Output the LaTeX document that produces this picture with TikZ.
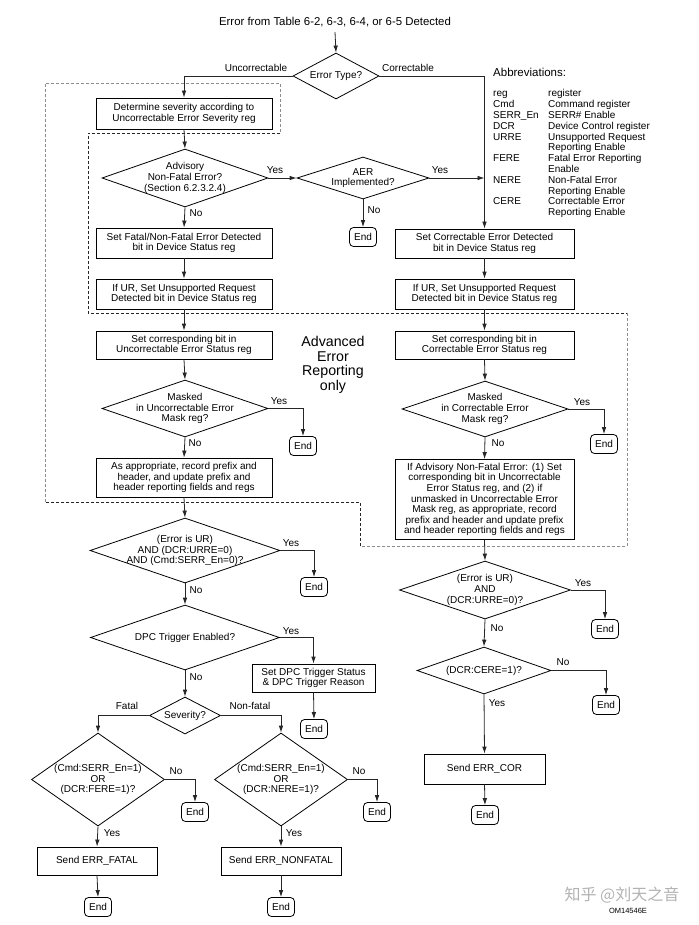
\documentclass[tikz,border=0pt]{standalone}
\usepackage{fontspec}
\setmainfont{Liberation Sans}
\newfontfamily\cjkfont{Noto Sans CJK SC}
\usetikzlibrary{shapes.geometric,arrows.meta}
\begin{document}
\begin{tikzpicture}[x=1pt,y=-1pt,
  fs/.style={font=\fontsize{10}{10.6}\selectfont},
  box/.style 2 args={draw, rectangle, line width=0.8pt, align=center, inner sep=1pt, minimum width=#1, minimum height=#2, fs},
  dia/.style 2 args={draw, diamond, line width=0.8pt, inner sep=0pt, minimum width=#1, minimum height=#2},
  dtxt/.style={align=center, fs, inner sep=0pt},
  endb/.style={draw, rounded corners=4pt, line width=0.8pt, minimum width=27pt, minimum height=19pt, inner sep=0pt, fs},
  arr/.style={draw=black!85, line width=0.8pt, -{Latex[length=7pt,width=4.6pt]}},
  lab/.style={fs, inner sep=0pt},
  dsh/.style={dash pattern=on 3pt off 2pt, line width=0.8pt}
]
\useasboundingbox (0,0) rectangle (698,925);

% ---------- dashed AER region ----------
\draw[dsh, black!85] (280,133) -- (88,133) -- (88,313) -- (627,313);
\draw[dsh, black!45] (627,313) -- (627,546) -- (360,546);
\draw[dsh, black!85] (360,546) -- (360,502) -- (45,502);
\draw[dsh, black!45] (45,502) -- (45,83) -- (280,83) -- (280,133);

% ---------- top ----------
\node[font=\fontsize{11.4}{12}\selectfont, inner sep=0pt] (title) at (335,22) {Error from Table 6-2, 6-3, 6-4, or 6-5 Detected};
\node[dia={86pt}{46pt}, label={[dtxt]center:Error Type?}] (et) at (336,76) {};
\node[lab] (lUnc) at (256,68) {Uncorrectable};
\node[lab] (lCor) at (408,68) {Correctable};

% ---------- abbreviations ----------
\node[anchor=west, inner sep=0pt, font=\fontsize{11.5}{12}\selectfont] (abbrt) at (493,72) {Abbreviations:};
\node[anchor=north west, inner sep=0pt] (abbr) at (493,89.2) {\fontsize{10}{10.8}\selectfont
\begin{tabular}{@{}l@{}l@{}}
\makebox[55pt][l]{reg} & register\\
\makebox[55pt][l]{Cmd} & Command register\\
\makebox[55pt][l]{SERR\_En} & SERR\# Enable\\
\makebox[55pt][l]{DCR} & Device Control register\\
\makebox[55pt][l]{URRE} & Unsupported Request\\
 & Reporting Enable\\
\makebox[55pt][l]{FERE} & Fatal Error Reporting\\
 & Enable\\
\makebox[55pt][l]{NERE} & Non-Fatal Error\\
 & Reporting Enable\\
\makebox[55pt][l]{CERE} & Correctable Error\\
 & Reporting Enable
\end{tabular}};

% ---------- left column ----------
\node[box={176pt}{31pt}] (det) at (184,113.5) {Determine severity according to\\Uncorrectable Error Severity reg};
\node[dia={166pt}{58pt}, label={[dtxt]center:{Advisory\\Non-Fatal Error?\\(Section 6.2.3.2.4)}}] (adv) at (185,178) {};
\node[dia={132pt}{42pt}, label={[dtxt]center:{AER\\Implemented?}}] (aer) at (363,178) {};
\node[endb] (end1) at (363,237) {End};
\node[box={176pt}{30pt}] (sfat) at (184,243) {Set Fatal/Non-Fatal Error Detected\\bit in Device Status reg};
\node[box={176pt}{30pt}] (urL) at (184,294) {If UR, Set Unsupported Request\\Detected bit in Device Status reg};
\node[box={176pt}{28pt}] (ucs) at (184,345) {Set corresponding bit in\\Uncorrectable Error Status reg};
\node[dia={166pt}{57pt}, label={[dtxt]center:{Masked\\in Uncorrectable Error\\Mask reg?}}] (mU) at (185,408.5) {};
\node[endb] (endMU) at (303,446) {End};
\node[box={176pt}{39pt}] (asap) at (184,477.5) {As appropriate, record prefix and\\header, and update prefix and\\header reporting fields and regs};
\node[font=\fontsize{14.2}{14.6}\selectfont, align=center, inner sep=0pt] (aeronly) at (333,365) {Advanced\\Error\\Reporting\\only};

\node[dia={190pt}{65pt}, label={[dtxt]center:{(Error is UR)\\AND (DCR:URRE=0)\\AND (Cmd:SERR\_En=0)?}}] (urA) at (185,550.5) {};
\node[endb] (endUA) at (314,587) {End};
\node[dia={189pt}{65pt}, label={[dtxt]center:{DPC Trigger Enabled?}}] (dpc) at (185,637.5) {};
\node[box={123pt}{28pt}] (dpcs) at (313.5,678) {Set DPC Trigger Status\\\& DPC Trigger Reason};
\node[endb] (endD) at (314,729) {End};
\node[dia={71pt}{37pt}, label={[dtxt]center:{Severity?}}] (sev) at (185,715.5) {};
\node[dia={133pt}{93pt}, label={[dtxt]center:{(Cmd:SERR\_En=1)\\OR\\(DCR:FERE=1)?}}] (fat) at (98,779.5) {};
\node[dia={133pt}{93pt}, label={[dtxt]center:{(Cmd:SERR\_En=1)\\OR\\(DCR:NERE=1)?}}] (nfat) at (281,779.5) {};
\node[endb] (endF1) at (195,812) {End};
\node[endb] (endN1) at (377,812) {End};
\node[box={120pt}{28pt}] (sf) at (97,861) {Send ERR\_FATAL};
\node[box={120pt}{28pt}] (snf) at (281,861) {Send ERR\_NONFATAL};
\node[endb] (endF2) at (98,907) {End};
\node[endb] (endN2) at (281,907) {End};

% ---------- right column ----------
\node[box={179pt}{29pt}] (scor) at (484.5,243.5) {Set Correctable Error Detected\\bit in Device Status reg};
\node[box={179pt}{30pt}] (urR) at (484.5,294) {If UR, Set Unsupported Request\\Detected bit in Device Status reg};
\node[box={179pt}{28pt}] (ccs) at (484.5,345) {Set corresponding bit in\\Correctable Error Status reg};
\node[dia={166pt}{56pt}, label={[dtxt]center:{Masked\\in Correctable Error\\Mask reg?}}] (mC) at (485,409) {};
\node[endb] (endMC) at (604,444) {End};
\node[box={179pt}{80pt}] (advN) at (484.5,499.5) {If Advisory Non-Fatal Error: (1) Set\\corresponding bit in Uncorrectable\\Error Status reg, and (2) if\\unmasked in Uncorrectable Error\\Mask reg, as appropriate, record\\prefix and header and update prefix\\and header reporting fields and regs};
\node[dia={171pt}{58pt}, label={[dtxt]center:{(Error is UR)\\AND\\(DCR:URRE=0)?}}] (urC) at (485,590) {};
\node[endb] (endUC) at (605,629) {End};
\node[dia={134pt}{47pt}, label={[dtxt]center:{(DCR:CERE=1)?}}] (cere) at (484,670.5) {};
\node[endb] (endCE) at (606,705) {End};
\node[box={121pt}{30pt}] (scor2) at (484.5,769) {Send ERR\_COR};
\node[endb] (endC) at (485,815) {End};

% ---------- branch labels ----------
\node[lab] (y1) at (275,170) {Yes};
\node[lab] (y2) at (440,170) {Yes};
\node[lab] (n1) at (374,210) {No};
\node[lab] (n2) at (196,213) {No};
\node[lab] (y3) at (279,401) {Yes};
\node[lab] (n3) at (195,443) {No};
\node[lab] (y4) at (582,402) {Yes};
\node[lab] (n4) at (498,443) {No};
\node[lab] (y5) at (291,543) {Yes};
\node[lab] (n5) at (196,590) {No};
\node[lab] (y6) at (291,631) {Yes};
\node[lab] (n6) at (196,677) {No};
\node[lab] (lfat) at (127,706) {Fatal};
\node[lab] (lnf) at (250,706) {Non-fatal};
\node[lab] (n7) at (176,771) {No};
\node[lab] (y7) at (112,833) {Yes};
\node[lab] (n8) at (359,771) {No};
\node[lab] (y8) at (294,833) {Yes};
\node[lab] (y9) at (583,583) {Yes};
\node[lab] (n9) at (497,628) {No};
\node[lab] (n10) at (563,662) {No};
\node[lab] (y10) at (497,703) {Yes};

% ---------- watermark / id ----------
\node[font=\cjkfont\fontsize{16}{16}\selectfont, text=black!30, inner sep=0pt] (wm) at (622,895) {知乎 @刘天之音};
\node[font=\fontsize{7.5}{8}\selectfont, inner sep=0pt] (om) at (628,911) {OM14546E};

% ---------- connectors ----------
\draw[arr] ([yshift=-5pt]title.south) -- (et.north);
\draw[arr] (et.west) -| (det.north);
\draw[arr] (et.east) -| (scor.north);
\draw[arr] (det.south) -- (adv.north);
\draw[arr] (adv.east) -- (aer.west);
\coordinate (aerj) at (aer.east -| scor.north);
\draw[arr] (aer.east) -- (aerj);
\draw[arr] (aer.south) -- (end1.north);
\draw[arr] (adv.south) -- (sfat.north);
\draw[arr] (sfat.south) -- (urL.north);
\draw[arr] (urL.south) -- (ucs.north);
\draw[arr] (ucs.south) -- (mU.north);
\draw[arr] (mU.east) -| (endMU.north);
\draw[arr] (mU.south) -- (asap.north);
\draw[arr] (asap.south) -- (urA.north);
\draw[arr] (urA.east) -| (endUA.north);
\draw[arr] (urA.south) -- (dpc.north);
\draw[arr] (dpc.east) -| (dpcs.north);
\draw[arr] (dpcs.south) -- (endD.north);
\draw[arr] (dpc.south) -- (sev.north);
\draw[arr] (sev.west) -| (fat.north);
\draw[arr] (sev.east) -| (nfat.north);
\draw[arr] (fat.east) -| (endF1.north);
\draw[arr] (fat.south) -- (sf.north);
\draw[arr] (sf.south) -- (endF2.north);
\draw[arr] (nfat.east) -| (endN1.north);
\draw[arr] (nfat.south) -- (snf.north);
\draw[arr] (snf.south) -- (endN2.north);

\draw[arr] (scor.south) -- (urR.north);
\draw[arr] (urR.south) -- (ccs.north);
\draw[arr] (ccs.south) -- (mC.north);
\draw[arr] (mC.east) -| (endMC.north);
\draw[arr] (mC.south) -- (advN.north);
\draw[arr] (advN.south) -- (urC.north);
\draw[arr] (urC.east) -| (endUC.north);
\draw[arr] (urC.south) -- (cere.north);
\draw[arr] (cere.east) -| (endCE.north);
\draw[arr] (cere.south) -- (scor2.north);
\draw[arr] (scor2.south) -- (endC.north);
\end{tikzpicture}
\end{document}
